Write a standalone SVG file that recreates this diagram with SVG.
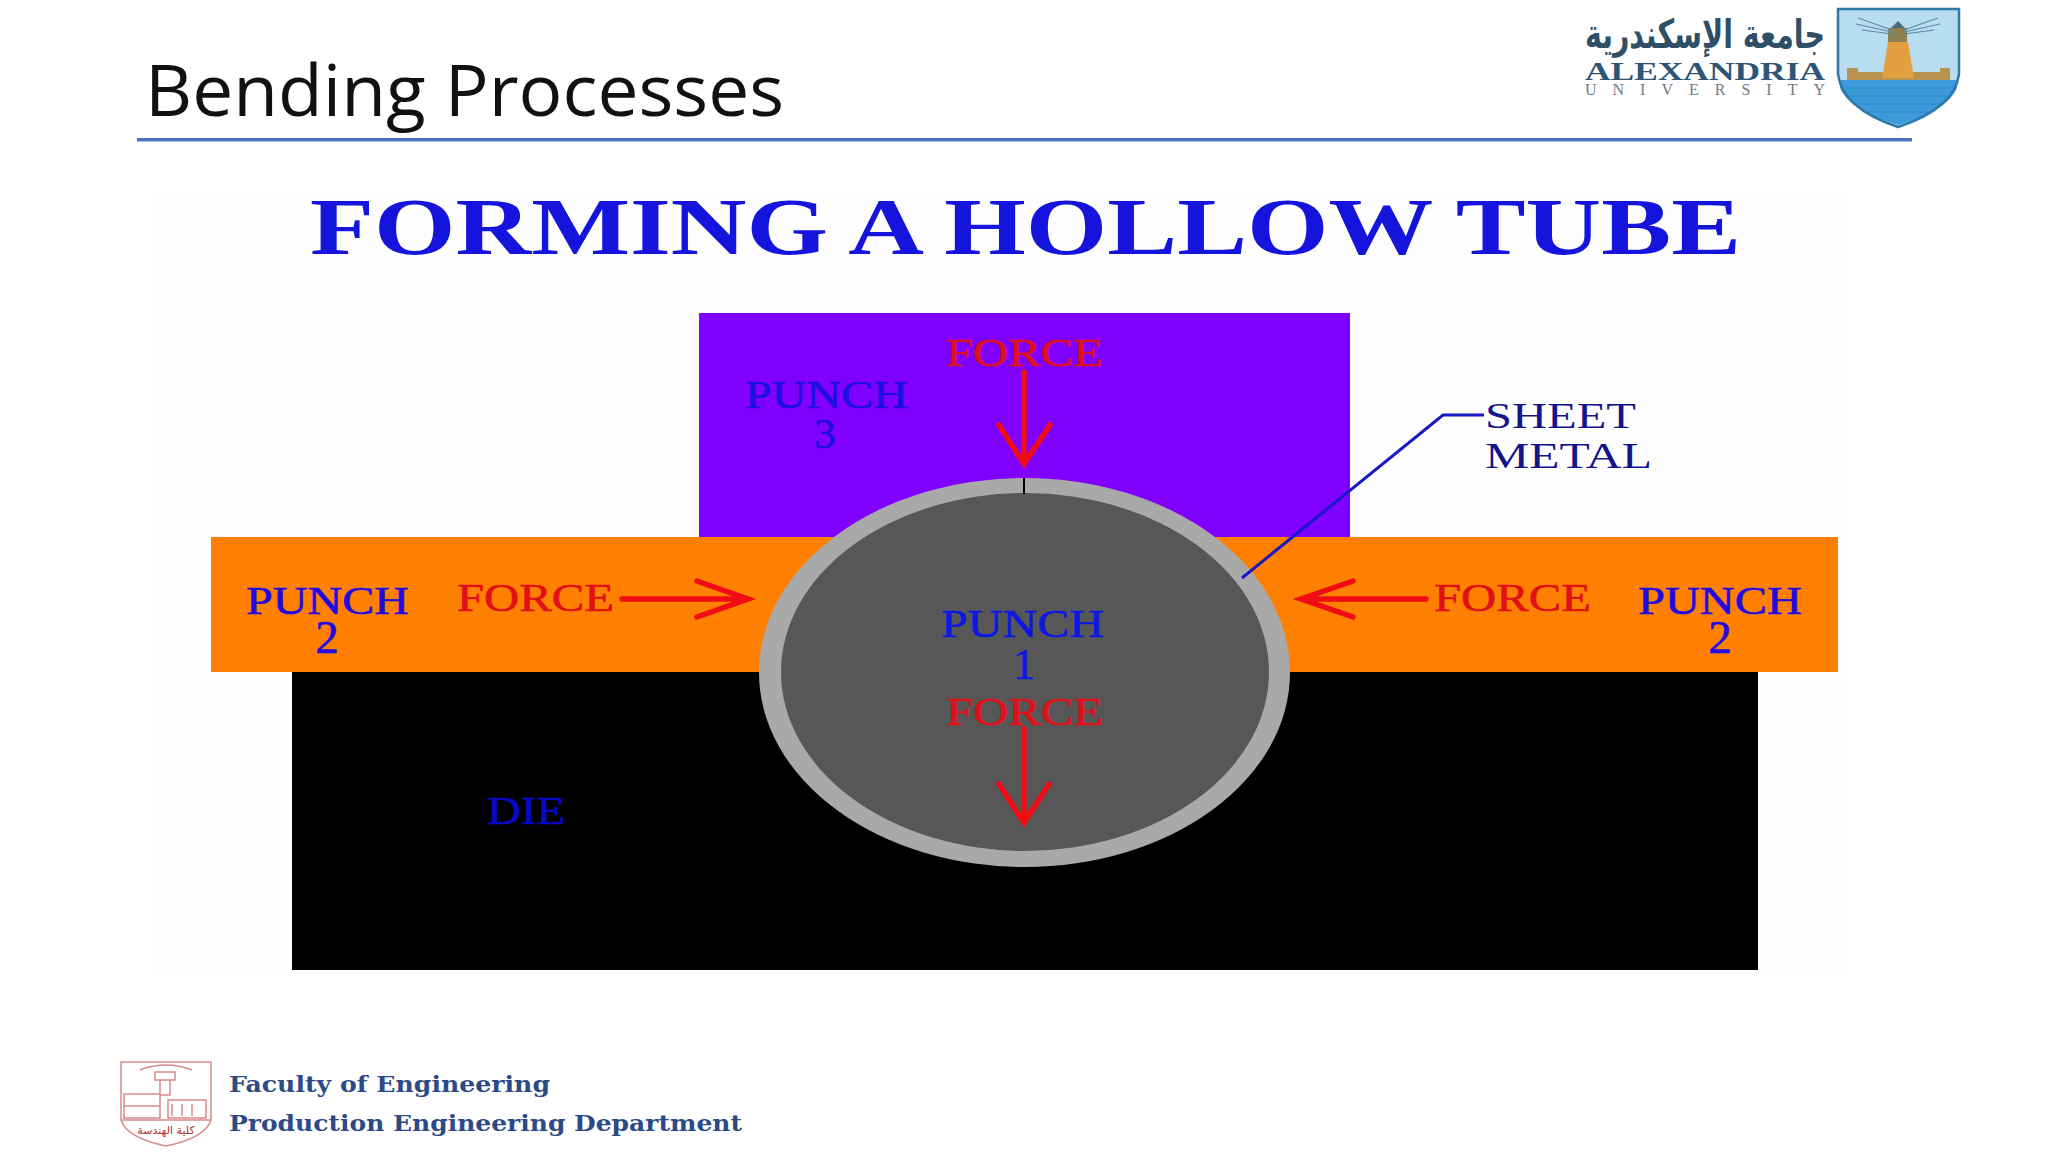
<svg xmlns="http://www.w3.org/2000/svg" width="2048" height="1152" viewBox="0 0 2048 1152">
<style>
text{font-family:"Liberation Serif","Times New Roman",serif}
.lb{font-size:39px;stroke-width:.6}
.force{fill:#e01018;stroke:#e01018}
.blue{fill:#2208e0;stroke:#2208e0}
.pur{fill:#1c10e0;stroke:#1c10e0}
.arrow{fill:none;stroke:#f00c14;stroke-width:5.5;stroke-linecap:round;stroke-linejoin:miter}
.foot{font-family:"DejaVu Serif",serif;font-weight:700;font-size:23px;fill:#2b4a86}
.pink{fill:none;stroke:#d98a8a;stroke-width:1.5}
</style>
<rect width="2048" height="1152" fill="#ffffff"/>
<rect x="150" y="190" width="1700" height="790" fill="#fefefe"/>
<g id="title">
<text x="145" y="116" textLength="639" lengthAdjust="spacingAndGlyphs" style="font-family:'Open Sans','Noto Sans',sans-serif;font-size:72px" fill="#111111">Bending Processes</text>
<rect x="137" y="138" width="1775" height="3.5" fill="#4a72c4"/>
</g>
<g id="university-logo">
<text x="1825" y="48" text-anchor="start" direction="rtl" textLength="240" lengthAdjust="spacingAndGlyphs" style="font-family:'DejaVu Sans',sans-serif;font-size:40px;font-weight:700" fill="#2f4f66">جامعة الإسكندرية</text>
<text x="1585" y="80" textLength="240" lengthAdjust="spacingAndGlyphs" style="font-size:25px;font-weight:700" fill="#2c5578">ALEXANDRIA</text>
<text x="1585" y="95" textLength="240" lengthAdjust="spacing" style="font-size:16px" fill="#6f7a84">UNIVERSITY</text>
<path d="M1838,9H1959V74Q1955,108 1898,127Q1842,108 1838,74Z" fill="#b8dcf0"/>
<path d="M1840,80H1957V88Q1948,110 1898,125Q1849,110 1840,88Z" fill="#3d9bdc"/>
<path d="M1846,88H1951M1850,96H1947M1856,104H1941M1866,112H1931" stroke="#2f86c4" stroke-width="1" fill="none"/>
<path d="M1847,68H1858V72H1940V68H1950V80H1847Z" fill="#b89450"/>
<path d="M1882,78L1888,42H1908L1914,78Z" fill="#e2a040"/>
<path d="M1888,42V28H1907V42Z" fill="#8d8050"/>
<path d="M1891,28L1898,21L1905,28Z" fill="#4a6a7a"/>
<path d="M1858,18L1892,30M1856,24L1892,32M1862,30L1892,34M1938,18L1904,30M1940,24L1904,32M1934,30L1904,34" stroke="#5a8aa8" stroke-width="1.2" fill="none"/>
<path d="M1838,9H1959V74Q1955,108 1898,127Q1842,108 1838,74Z" fill="none" stroke="#2f79a8" stroke-width="2.5"/>
</g>
<g id="heading">
<text x="310" y="254" textLength="1431" lengthAdjust="spacingAndGlyphs" style="font-size:80px;font-weight:700" fill="#1414dc">FORMING A HOLLOW TUBE</text>
</g>
<g id="punch3"><rect x="699" y="313" width="651" height="226" fill="#8000ff"/>
<text class="lb pur" x="745" y="408" textLength="163" lengthAdjust="spacingAndGlyphs">PUNCH</text>
<text class="lb pur" x="825" y="448" text-anchor="middle" style="font-size:43px">3</text></g>
<g id="die"><rect x="292" y="672" width="1466" height="298" fill="#000000"/>
<text class="lb" x="487" y="824" textLength="78" lengthAdjust="spacingAndGlyphs" fill="#0808c8" stroke="#0808c8">DIE</text></g>
<g id="punch2-left"><rect x="211" y="537" width="1627" height="135" fill="#ff8000"/>
<text class="lb blue" x="246" y="614" textLength="163" lengthAdjust="spacingAndGlyphs">PUNCH</text>
<text class="lb blue" x="327" y="653" text-anchor="middle" style="font-size:47px">2</text></g>
<g id="punch2-right">
<text class="lb blue" x="1638" y="614" textLength="164" lengthAdjust="spacingAndGlyphs">PUNCH</text>
<text class="lb blue" x="1720" y="653" text-anchor="middle" style="font-size:47px">2</text></g>
<g id="sheet-metal"><ellipse cx="1024.5" cy="672.5" rx="265.5" ry="194.5" fill="#a9a9a9"/>
<text x="1485" y="428" textLength="151" lengthAdjust="spacingAndGlyphs" style="font-size:36px" fill="#14148c">SHEET</text>
<text x="1485" y="468" textLength="167" lengthAdjust="spacingAndGlyphs" style="font-size:36px" fill="#14148c">METAL</text></g>
<g id="punch1"><ellipse cx="1025" cy="672" rx="244" ry="179" fill="#575757"/>
<text class="lb" x="941" y="637" textLength="163" lengthAdjust="spacingAndGlyphs" fill="#0c18e0" stroke="#0c18e0">PUNCH</text>
<text class="lb" x="1024" y="679" text-anchor="middle" style="font-size:44px" fill="#0c18e0" stroke="#0c18e0">1</text></g>
<g id="force-labels">
<text class="lb force" x="946" y="366" textLength="157" lengthAdjust="spacingAndGlyphs">FORCE</text>
<text class="lb force" x="457" y="611" textLength="157" lengthAdjust="spacingAndGlyphs">FORCE</text>
<text class="lb force" x="1434" y="611" textLength="157" lengthAdjust="spacingAndGlyphs">FORCE</text>
<text class="lb force" x="946" y="725" textLength="157" lengthAdjust="spacingAndGlyphs">FORCE</text>
</g>
<g id="connectors">
<path class="arrow" d="M1024,372V463M999,425L1024,464L1050,425"/>
<path class="arrow" d="M622,599H747M697,581L748,599L697,617"/>
<path class="arrow" d="M1426,599H1302M1353,581L1301,599L1353,617"/>
<path class="arrow" d="M1024,729V822M999,784L1024,823L1049,784"/>
<path d="M1024,478V494" stroke="#000" stroke-width="2" fill="none"/>
<path d="M1242,578L1443,415H1484" stroke="#1818c8" stroke-width="3" fill="none"/>
</g>
<g id="faculty-logo">
<path class="pink" d="M121,1062H211V1120Q205,1138 166,1146Q127,1138 121,1120Z"/>
<path class="pink" d="M140,1070Q166,1060 192,1070M155,1072H175V1080H155ZM160,1080V1095H170V1080ZM124,1094H160V1118H124ZM168,1100H206V1118H168ZM172,1104V1116M182,1104V1116M192,1104V1116M124,1106H160M122,1120H210"/>
<text x="166" y="1134" text-anchor="middle" direction="rtl" style="font-family:'DejaVu Sans',sans-serif;font-size:11px" fill="#b03030">كلية الهندسة</text>
</g>
<g id="footer">
<text class="foot" x="229" y="1092" textLength="321" lengthAdjust="spacingAndGlyphs">Faculty of Engineering</text>
<text class="foot" x="229" y="1131" textLength="513" lengthAdjust="spacingAndGlyphs">Production Engineering Department</text>
</g>
</svg>
